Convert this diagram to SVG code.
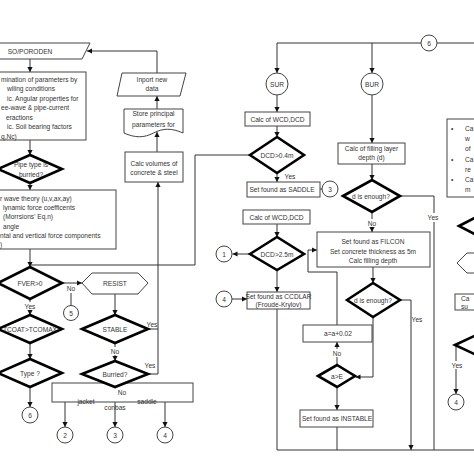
<svg xmlns="http://www.w3.org/2000/svg" width="474" height="474" viewBox="0 0 474 474">
<style>
.ln{fill:none;stroke:#333;stroke-width:1}
.bx{fill:#fff;stroke:#444;stroke-width:1}
.dm{fill:#fff;stroke:#000;stroke-width:2.6;stroke-linejoin:miter}
.t{font-family:"Liberation Sans",Arial,sans-serif;font-size:6.6px;fill:#333;text-anchor:middle}
.s{text-anchor:start}
.bg{fill:#fff}
</style>
<defs>
<marker id="a" markerWidth="6" markerHeight="6" refX="5" refY="3" orient="auto" markerUnits="userSpaceOnUse"><path d="M0,0.4 L5,3 L0,5.6z" fill="#111"/></marker>
</defs>
<rect width="474" height="474" fill="#fff"/>

<g id="connectors" class="ln">
<path d="M30,59 V72" marker-end="url(#a)"/>
<path d="M30,140 V155" marker-end="url(#a)"/>
<path d="M30,183 V190" marker-end="url(#a)"/>
<path d="M30,249 V267" marker-end="url(#a)"/>
<path d="M249,155 H195 V265 H30"/>
<path d="M30,299 V315" marker-end="url(#a)"/>
<path d="M30,343 V359" marker-end="url(#a)"/>
<path d="M30,387 V407" marker-end="url(#a)"/>
<path d="M62,283 H82" marker-end="url(#a)"/>
<path d="M71,293 V305.5"/>
<path d="M115,294 V315" marker-end="url(#a)"/>
<path d="M115,343 V361" marker-end="url(#a)"/>
<path d="M148,374 H158 V182" marker-end="url(#a)"/>
<path d="M148,329 H158"/>
<path d="M157,152 V132" marker-end="url(#a)"/>
<path d="M157,109 V96" marker-end="url(#a)"/>
<path d="M157,73 V51 H87" marker-end="url(#a)"/>
<path d="M65,402 V427" marker-end="url(#a)"/>
<path d="M115,402 V427" marker-end="url(#a)"/>
<path d="M165,402 V427" marker-end="url(#a)"/>
<path d="M277,43 H421 M437,43 H474"/>
<path d="M277,43 V73" marker-end="url(#a)"/>
<path d="M372,43 V73" marker-end="url(#a)"/>
<path d="M277,95 V112" marker-end="url(#a)"/>
<path d="M277,126 V137" marker-end="url(#a)"/>
<path d="M277,173 V182" marker-end="url(#a)"/>
<path d="M322,189 H315" marker-end="url(#a)"/>
<path d="M277,224 V237" marker-end="url(#a)"/>
<path d="M250,254 H232.5" marker-end="url(#a)"/>
<path d="M277,270 V292" marker-end="url(#a)"/>
<path d="M232,299 H247" marker-end="url(#a)"/>
<path d="M277,309 V450 H474"/>
<path d="M372,95 V143" marker-end="url(#a)"/>
<path d="M372,164 V180" marker-end="url(#a)"/>
<path d="M400,196 H434 V450"/>
<path d="M372,212 V232" marker-end="url(#a)"/>
<path d="M373,267 V283" marker-end="url(#a)"/>
<path d="M400,300 H411 V450" marker-end="url(#a)"/>
<path d="M373,317 V377 H355.5" marker-end="url(#a)"/>
<path d="M337,365 V342" marker-end="url(#a)"/>
<path d="M337,325 V272 H308 V250 H317" marker-end="url(#a)"/>
<path d="M337,387 V410" marker-end="url(#a)"/>
<path d="M337,427 V450"/>
<path d="M456,346 V394" marker-end="url(#a)"/>
</g>

<g id="labels" class="t">
<rect class="bg" x="22" y="302" width="16" height="8"/><text x="30" y="308.5">Yes</text>
<text x="71" y="291">No</text>
<text x="152" y="326.5">Yes</text>
<rect class="bg" x="108" y="347" width="14" height="8"/><text x="115" y="353.5">No</text>
<text x="150" y="368">Yes</text>
<text x="290" y="179">Yes</text>
<rect class="bg" x="426" y="213" width="16" height="9"/><text x="433" y="219.5">Yes</text>
<rect class="bg" x="365" y="219" width="14" height="8"/><text x="372" y="225.5">No</text>
<text x="417" y="321.5">Yes</text>
<rect class="bg" x="330" y="349" width="14" height="8"/><text x="337" y="355.5">No</text>
<rect class="bg" x="449" y="361" width="16" height="8"/><text x="457" y="367.5">Yes</text>
</g>

<g id="n-soporoden"><polygon class="bx" points="-20,43 90,43 82,59 -28,59"/><text class="t" x="30" y="54">SO/PORODEN</text></g>

<g id="n-params"><rect class="bx" x="-5" y="72" width="91" height="68"/>
<text class="t s" x="1" y="81.8">mination of parameters by</text>
<text class="t s" x="7" y="90.8">wiling conditions</text>
<text class="t s" x="7" y="100.8">ic. Angular properties for</text>
<text class="t s" x="1" y="110.2">ee-wave &amp; pipe-current</text>
<text class="t s" x="6" y="119.8">eractions</text>
<text class="t s" x="7" y="129.2">ic. Soil bearing factors</text>
<text class="t s" x="1" y="138.5">q,Nc)</text></g>

<g id="n-pipetype"><polygon class="dm" points="-2,169 30,155 62,169 30,183"/><text class="t" x="31" y="167">Pipe type is</text><text class="t" x="31" y="176.5">burried?</text></g>

<g id="n-wave"><rect class="bx" x="-5" y="190" width="121" height="59"/>
<text class="t s" x="0" y="200.5">r wave theory (u,v,ax,ay)</text>
<text class="t s" x="3" y="209.5">lynamic force coefficents</text>
<text class="t s" x="3" y="219">(Morrsions' Eq.n)</text>
<text class="t s" x="3" y="228.5">angle</text>
<text class="t s" x="0" y="237.5">ntal and vertical force components</text>
<text class="t s" x="0" y="247">)</text></g>

<g id="n-fver"><polygon class="dm" points="-2,283 30,267 62,283 30,299"/><text class="t" x="30" y="285.5">FVER&gt;0</text></g>
<g id="n-tcoat"><polygon class="dm" points="-2,329 30,315 62,329 30,343"/><text class="t" x="30" y="331.5">TCOAT&gt;TCOMAX</text></g>
<g id="n-type"><polygon class="dm" points="-2,373 30,359 62,373 30,387"/><text class="t" x="30" y="375.5">Type ?</text></g>
<g id="n-c6a"><circle class="bx" cx="30" cy="415" r="8"/><text class="t" x="30" y="417.5">6</text></g>
<g id="n-c5"><circle class="bx" cx="71" cy="313" r="7.5"/><text class="t" x="71" y="315.5">5</text></g>

<g id="n-resist"><polygon class="bx" points="82,283 92,273 138,273 148,283 138,294 92,294"/><text class="t" x="115" y="285.5">RESIST</text></g>
<g id="n-stable"><polygon class="dm" points="82,329 115,315 148,329 115,343"/><text class="t" x="115" y="331.5">STABLE</text></g>

<g id="n-select"><rect class="bx" x="52" y="383" width="141" height="19"/>
<text class="t" x="122" y="394.5">No</text>
<text class="t" x="86" y="404">jacket</text>
<text class="t" x="115" y="410">conbas</text>
<text class="t" x="147" y="404">saddle</text></g>
<g id="n-burried"><polygon class="dm" points="82,374 115,361 148,374 115,387"/><text class="t" x="115" y="376.5">Burried?</text></g>
<g id="n-c2"><circle class="bx" cx="65" cy="435" r="8"/><text class="t" x="65" y="437.5">2</text></g>
<g id="n-c3a"><circle class="bx" cx="115" cy="435" r="8"/><text class="t" x="115" y="437.5">3</text></g>
<g id="n-c4a"><circle class="bx" cx="165" cy="435" r="8"/><text class="t" x="165" y="437.5">4</text></g>

<g id="n-calcvol"><rect class="bx" x="125" y="152" width="58" height="30"/><text class="t" x="154" y="165.5">Calc volumes of</text><text class="t" x="154" y="175">concrete &amp; steel</text></g>
<g id="n-store"><path class="bx" d="M124,109 H183 V133 C172,128 163,128 153.5,133 C144,138 135,138 124,133 Z"/><text class="t" x="153.5" y="116">Store principal</text><text class="t" x="153.5" y="126.5">parameters for</text></g>
<g id="n-inport"><polygon class="bx" points="122,73 186,73 180,96 117,96"/><text class="t" x="152" y="81.5">Inport new</text><text class="t" x="152" y="90.5">data</text></g>

<g id="n-c6b"><circle class="bx" cx="429" cy="43" r="8"/><text class="t" x="429" y="45.5">6</text></g>
<g id="n-sur"><circle class="bx" cx="277" cy="84" r="11"/><text class="t" x="277" y="86.5">SUR</text></g>
<g id="n-wcd1"><rect class="bx" x="245" y="112" width="65" height="14"/><text class="t" x="277.5" y="121.5">Calc of WCD,DCD</text></g>
<g id="n-dcd04"><polygon class="dm" points="250,155 277,137 304,155 277,173"/><text class="t" x="277" y="157.5">DCD&gt;0.4m</text></g>
<g id="n-saddle"><rect class="bx" x="247" y="182" width="73" height="15"/><text class="t" x="282" y="192">Set found as SADDLE</text></g>
<g id="n-c3b"><circle class="bx" cx="330" cy="189" r="8"/><text class="t" x="330" y="191.5">3</text></g>
<g id="n-wcd2"><rect class="bx" x="243" y="210" width="67" height="14"/><text class="t" x="276.5" y="219.5">Calc of WCD,DCD</text></g>
<g id="n-dcd25"><polygon class="dm" points="250,254 277,237 304,254 277,270"/><text class="t" x="277" y="256.5">DCD&gt;2.5m</text></g>
<g id="n-c1"><circle class="bx" cx="224" cy="254" r="8"/><text class="t" x="224" y="256.5">1</text></g>
<g id="n-ccdlar"><rect class="bx" x="247" y="292" width="63" height="17"/><text class="t" x="278.5" y="298.5">Set found as CCDLAR</text><text class="t" x="278.5" y="306.5">(Froude-Krylov)</text></g>
<g id="n-c4b"><circle class="bx" cx="224" cy="299" r="8"/><text class="t" x="224" y="301.5">4</text></g>

<g id="n-bur"><circle class="bx" cx="372" cy="84" r="11"/><text class="t" x="372" y="86.5">BUR</text></g>
<g id="n-filling"><rect class="bx" x="338" y="143" width="67" height="21"/><text class="t" x="371.5" y="151">Calc of filling layer</text><text class="t" x="371.5" y="160">depth (d)</text></g>
<g id="n-denough1"><polygon class="dm" points="343,196 372,180 400,196 372,212"/><text class="t" x="371" y="198.5">d is enough?</text></g>
<g id="n-filcon"><rect class="bx" x="317" y="232" width="113" height="35"/><text class="t" x="373" y="243.5">Set found as FILCON</text><text class="t" x="373" y="253.5">Set concrete thickness as 5m</text><text class="t" x="373" y="263">Calc filling depth</text></g>
<g id="n-denough2"><polygon class="dm" points="347,300 373,283 400,300 373,317"/><text class="t" x="373" y="302.5">d is enough?</text></g>
<g id="n-aplus"><rect class="bx" x="303" y="325" width="69" height="17"/><text class="t" x="338" y="336">a=a+0.02</text></g>
<g id="n-age"><polygon class="dm" points="318,376 337,365 355,376 337,387"/><text class="t" x="337" y="378.5">a&gt;E</text></g>
<g id="n-instable"><rect class="bx" x="300" y="410" width="73" height="17"/><text class="t" x="337" y="421">Set found as INSTABLE</text></g>

<g id="n-rbox"><rect class="bx" x="447" y="119" width="40" height="78"/>
<text class="t s" x="451" y="131">•</text><text class="t s" x="465" y="131">Ca</text>
<text class="t s" x="465" y="141">w</text><text class="t s" x="465" y="151">of</text>
<text class="t s" x="451" y="162">•</text><text class="t s" x="465" y="162">Ca</text>
<text class="t s" x="465" y="172">re</text>
<text class="t s" x="451" y="182">•</text><text class="t s" x="465" y="182">Ca</text>
<text class="t s" x="465" y="192">m</text></g>
<g id="n-rdm1"><polygon class="dm" points="459,226 490,210 521,226 490,242"/></g>
<g id="n-rhex"><polygon class="bx" points="457,263 467,253 520,253 530,263 520,273 467,273"/></g>
<g id="n-rbox2"><rect class="bx" x="455" y="294" width="30" height="16"/><text class="t s" x="461" y="300.5">Ca</text><text class="t s" x="461" y="308.5">su</text></g>
<g id="n-rdm2"><polygon class="dm" points="455,345 487,330 519,345 487,360"/></g>
<g id="n-c4c"><circle class="bx" cx="456" cy="402" r="8"/><text class="t" x="456" y="404.5">4</text></g>
</svg>
